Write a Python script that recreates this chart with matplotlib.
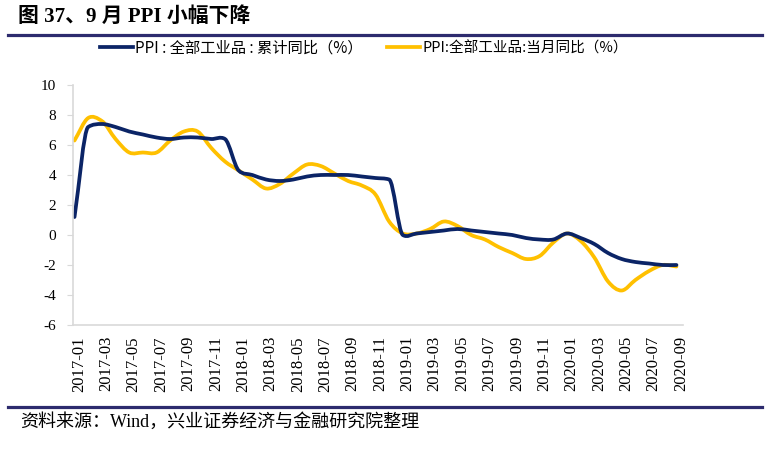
import numpy as np
import matplotlib
matplotlib.use("Agg")
import matplotlib.pyplot as plt
from matplotlib.path import Path
from matplotlib.patches import PathPatch
from matplotlib.lines import Line2D

plt.rcParams["axes.unicode_minus"] = False

# monthly categories 2017-01 .. 2020-09
months = [f"{y}-{m:02d}" for y in range(2017, 2021) for m in range(1, 13)][:45]

# PPI: all industrial products, cumulative YoY (%)
cum_yoy = [1.2, 7.2, 7.4, 7.2, 6.9, 6.7, 6.5, 6.4, 6.5, 6.5, 6.4, 6.4,
           4.3, 4.0, 3.7, 3.6, 3.7, 3.9, 4.0, 4.0, 4.0, 3.9, 3.8, 3.7,
           0.0, 0.1, 0.2, 0.3, 0.4, 0.3, 0.2, 0.1, 0.0, -0.2, -0.3, -0.3,
           0.1, -0.2, -0.6, -1.2, -1.6, -1.8, -1.9, -2.0, -2.0]

# PPI: all industrial products, monthly YoY (%)
mon_yoy = [6.3, 7.8, 7.6, 6.4, 5.5, 5.5, 5.5, 6.3, 6.9, 6.9, 5.8, 4.9,
           4.3, 3.7, 3.1, 3.4, 4.1, 4.7, 4.6, 4.1, 3.6, 3.3, 2.7, 0.9,
           0.1, 0.1, 0.4, 0.9, 0.6, 0.0, -0.3, -0.8, -1.2, -1.6, -1.4, -0.5,
           0.1, -0.4, -1.5, -3.1, -3.7, -3.0, -2.4, -2.0, -2.1]

labels = ["PPI : 全部工业品 : 累计同比（%）", "PPI:全部工业品:当月同比（%）"]
colors = ["#0b2466", "#ffc000"]

title = "图 37、9 月 PPI 小幅下降"
source = "资料来源：Wind，兴业证券经济与金融研究院整理"

serif_cjk = ["Liberation Serif", "Noto Sans CJK SC"]
sans_cjk = ["Noto Sans CJK SC", "DejaVu Sans"]


def smooth_path(x, y):
    # smoothed line through the points, tangents limited so big jumps don't overshoot
    x = np.asarray(x, float)
    y = np.asarray(y, float)
    n = len(x)
    d = np.diff(y) / np.diff(x)
    m = np.zeros(n)
    m[0], m[-1] = d[0], d[-1]
    for i in range(1, n - 1):
        m[i] = (d[i - 1] + d[i]) / 2
        lim = 3 * min(abs(d[i - 1]), abs(d[i]))
        if d[i - 1] * d[i] > 0:
            m[i] = np.sign(m[i]) * min(abs(m[i]), lim)
        else:
            m[i] = np.sign(m[i]) * min(abs(m[i]), max(lim, 0.6))
    verts = [(x[0], y[0])]
    codes = [Path.MOVETO]
    for i in range(n - 1):
        h = x[i + 1] - x[i]
        verts += [(x[i] + h / 3, y[i] + m[i] * h / 3),
                  (x[i + 1] - h / 3, y[i + 1] - m[i + 1] * h / 3),
                  (x[i + 1], y[i + 1])]
        codes += [Path.CURVE4] * 3
    return Path(verts, codes)


fig = plt.figure(figsize=(7.72, 4.5), dpi=100)
ax = fig.add_axes([73 / 772, 1 - 325 / 450, 610 / 772, 240 / 450])

x = np.arange(len(months))
for vals, c in [(mon_yoy, colors[1]), (cum_yoy, colors[0])]:
    ax.add_patch(PathPatch(smooth_path(x, vals), fill=False, edgecolor=c,
                           lw=2.7, capstyle="round", joinstyle="round"))

ax.set_xlim(-0.11, 44.48)
ax.set_ylim(-6, 10)
ax.set_yticks(range(-6, 11, 2))
# tick marks are hidden, labels sit a little right of the points like the original
ax.set_xticks(x[::2] + 0.33)
ax.set_xticklabels(months[::2], rotation=90, fontsize=12, family="Liberation Serif")
for t in ax.get_yticklabels():
    t.set_family("Liberation Serif")
    t.set_fontsize(11)

for s in ["top", "right"]:
    ax.spines[s].set_visible(False)
for s in ["left", "bottom"]:
    ax.spines[s].set_color("#d9d9d9")
    ax.spines[s].set_linewidth(1.2)
ax.tick_params(axis="x", length=0, pad=8)
ax.tick_params(axis="y", length=4, color="#d9d9d9", pad=8)

handles = [Line2D([], [], color=colors[0], lw=2.7), Line2D([], [], color=colors[1], lw=2.7)]
leg = fig.legend(handles, labels, loc="center", bbox_to_anchor=(364 / 772, 1 - 48 / 450),
                 ncol=2, frameon=False, handlelength=2.15, handletextpad=0.15,
                 columnspacing=1.6, prop={"family": sans_cjk, "size": 11})
leg.get_texts()[1].set_fontsize(10.5)

fig.text(18 / 772, 1 - 17 / 450, title, fontsize=15, fontweight="bold",
         family=serif_cjk, va="center", ha="left")
fig.add_artist(Line2D([8 / 772, 762 / 772], [1 - 35 / 450] * 2, color="#2d2b6e", lw=2.3))
fig.add_artist(Line2D([8 / 772, 762 / 772], [1 - 407 / 450] * 2, color="#2d2b6e", lw=2.3))
fig.text(20 / 772, 1 - 422 / 450, source, fontsize=13, family=serif_cjk,
         va="center", ha="left")

fig.savefig("out.png", dpi=100)
